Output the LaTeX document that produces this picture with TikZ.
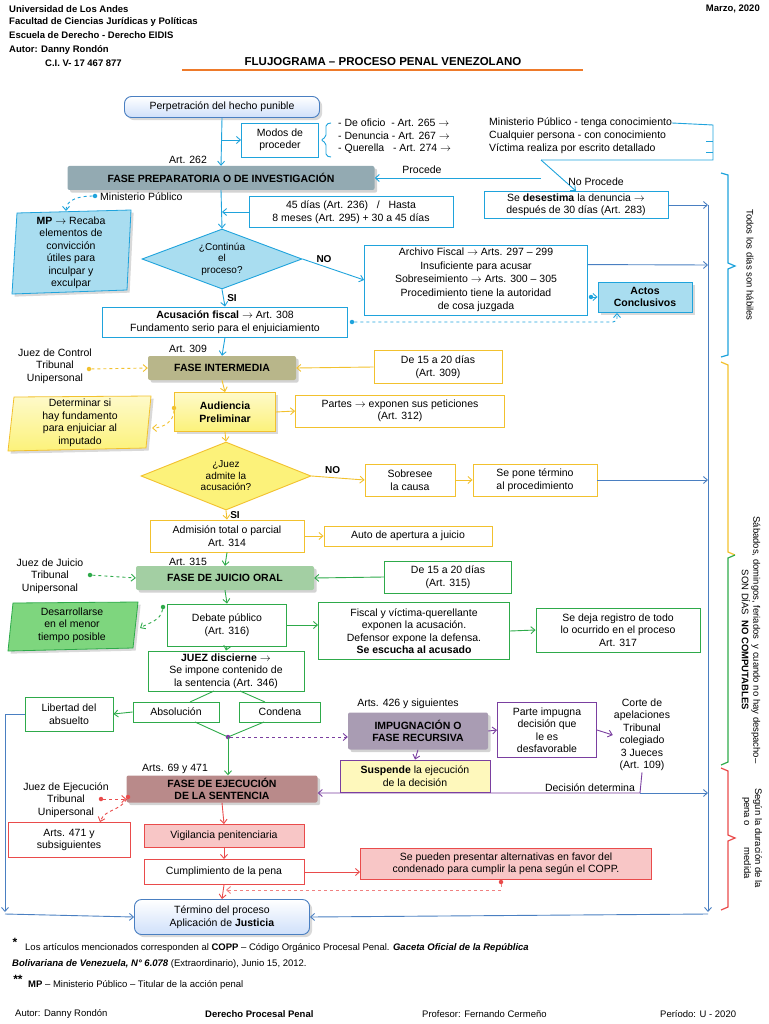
\documentclass[tikz,border=0pt]{standalone}
\usepackage{fontspec}
\setmainfont{Liberation Sans}
\usetikzlibrary{arrows.meta,shapes.geometric,shadows,calc}
\definecolor{lb}{HTML}{4A7FC1}
\definecolor{cy}{HTML}{1FA3DC}
\definecolor{cyf}{HTML}{A9DDF0}
\definecolor{yl}{HTML}{F2C12E}
\definecolor{ylf}{HTML}{FCF27A}
\definecolor{gr}{HTML}{2EAA4A}
\definecolor{grf}{HTML}{7ED67E}
\definecolor{pu}{HTML}{7A3FA0}
\definecolor{puf}{HTML}{A99CB3}
\definecolor{rd}{HTML}{E94B4B}
\definecolor{rdf}{HTML}{F8C6C6}
\definecolor{prepc}{HTML}{93AAB2}
\definecolor{interc}{HTML}{B8B68A}
\definecolor{oralc}{HTML}{A3CFA3}
\definecolor{ejec}{HTML}{B98A8A}
\definecolor{orng}{HTML}{EE7A2A}
\begin{document}
\begin{tikzpicture}[x=1pt,y=-1pt,
  font=\fontsize{10.5}{12.5}\selectfont,
  >={Straight Barb[length=4pt,width=7pt]},
  bx/.style={draw=#1, line width=0.9pt, fill=white, align=center, inner sep=2pt},
  phase/.style={rounded corners=2pt, align=center, inner sep=2pt, font=\bfseries\fontsize{10.5}{12.5}\selectfont, drop shadow={opacity=0.35}},
  term/.style={draw=lb, line width=0.9pt, rounded corners=7pt, top color=white, bottom color=cyf!80!blue!40, align=center, drop shadow={opacity=0.3}},
  lbl/.style={inner sep=1pt, align=center},
  dotc/.style={fill=#1, circle, inner sep=0pt, minimum size=4.5pt},
  cl/.style={draw=#1, line width=0.9pt}
]
\useasboundingbox (0,0) rectangle (768,1024);
% header
\begin{scope}[every node/.style={anchor=west, inner sep=0pt, font=\bfseries\fontsize{9.5}{11}\selectfont}]
\node (h1) at (9,9) {Universidad de Los Andes};
\node (h2) at (9,22) {Facultad de Ciencias Jurídicas y Políticas};
\node (h3) at (9,35) {Escuela de Derecho - Derecho EIDIS};
\node (h4) at (9,50) {Autor: Danny Rondón};
\node (h5) at (45,63) {C.I. V- 17 467 877};
\end{scope}
\node[anchor=east, inner sep=0pt, font=\bfseries\fontsize{9.5}{11}\selectfont] (h6) at (760,9) {Marzo, 2020};
\node[inner sep=0pt, font=\bfseries\fontsize{11.5}{13}\selectfont] (title) at (383,62) {FLUJOGRAMA – PROCESO PENAL VENEZOLANO};
\draw[orng, line width=1.6pt] (182,70) -- (583,70);

% ---- top section
\node[term, minimum width=195, minimum height=21] (perp) at (222,107) {Perpetración del hecho punible};
\node[bx=cy, minimum width=77, minimum height=34] (modos) at (280,140) {Modos de\\proceder};
\node[phase, fill=prepc, minimum width=307, minimum height=24] (prep) at (221,178) {FASE PREPARATORIA O DE INVESTIGACIÓN};
\draw[cl=cy,->] (perp.south) -- (prep.north);
\draw[cl=cy,->] (222,140) -- (modos.west);
\node[lbl] (a262) at (188,160) {Art. 262};
\draw[cy, line width=0.9pt, rounded corners=2pt] (331,123) -- (326,124) -- (326,137) -- (321,140) -- (326,143) -- (326,156) -- (331,157);
\begin{scope}[every node/.style={anchor=west, inner sep=0pt}]
\node (m1) at (338,123) {- De oficio \ - Art. 265 $\rightarrow$};
\node (m2) at (338,136) {- Denuncia - Art. 267 $\rightarrow$};
\node (m3) at (338,149) {- Querella \ \ - Art. 274 $\rightarrow$};
\node (r1) at (489,123) {Ministerio Público - tenga conocimiento};
\node (r2) at (489,136) {Cualquier persona - con conocimiento};
\node (r3) at (489,149) {Víctima realiza por escrito detallado};
\end{scope}
\draw[cl=cy] (r1.east) -- (713,125) -- (713,160) -- (541,160);
\draw[cl=cy] (706,141) -- (713,141);
\draw[cl=cy] (706,152) -- (713,152);
\node[bx=cy, minimum width=184, minimum height=27] (des) at (576,205) {Se \textbf{desestima} la denuncia $\rightarrow$\\después de 30 días (Art. 283)};
\draw[cl=cy,->] (541,160) -- (des.north);
\draw[cl=cy,->] (541,178) -- (prep.east);
\node[lbl] (proc) at (422,170) {Procede};
\node[lbl] (noproc) at (596,182) {No Procede};
% MP
\node[dotc=cy] (mpdot) at (95,196) {};
\node[anchor=west, inner sep=1pt] (mplab) at (99,197) {Ministerio Público};
\draw[cy, fill=cyf, line width=0.8pt, drop shadow={opacity=0.3}] (17,213) -- (131,210) -- (127,290) -- (12,294) -- cycle;
\node[lbl] (mp) at (71,253) {\textbf{MP} $\rightarrow$ Recaba\\elementos de\\convicción\\útiles para\\inculpar y\\exculpar};
\draw[cy, line width=0.9pt, dashed, ->] (mpdot) to[out=180,in=90] (66,211);
\node[bx=cy, minimum width=204, minimum height=31] (dias) at (351,212) {45 días (Art. 236) \ \ / \ \ Hasta\\8 meses (Art. 295) + 30 a 45 días};
\node[diamond, draw=cy, fill=cyf, line width=0.9pt, aspect=2.6, inner sep=0pt, minimum width=160, minimum height=60, align=center, font=\fontsize{10}{11.5}\selectfont] (cont) at (222,259) {¿Continúa\\el\\proceso?};
\draw[cl=cy,->] (prep.south) -- (cont.north);
\draw[cl=cy,->] (dias.west) -- (222,212);
\node[bx=cy, minimum width=223, minimum height=70, font=\fontsize{10.5}{13.5}\selectfont] (arch) at (476,280) {Archivo Fiscal $\rightarrow$ Arts. 297 – 299\\Insuficiente para acusar\\Sobreseimiento $\rightarrow$ Arts. 300 – 305\\Procedimiento tiene la autoridad\\de cosa juzgada};
\draw[cl=cy,->] (cont.east) -- (arch.west) node[pos=0.35, above, font=\bfseries] {NO};
\node[bx=cy, fill=cyf, minimum width=94, minimum height=30, font=\bfseries\fontsize{10.5}{12.5}\selectfont, drop shadow={opacity=0.3}] (actos) at (645,297) {Actos\\Conclusivos};
\node[dotc=cy] (adot) at (591,297) {};
\draw[cy, line width=0.9pt, dashed, ->] (adot) -- (actos.west);
\node[bx=cy, minimum width=245, minimum height=30] (acus) at (225,322) {\textbf{Acusación fiscal} $\rightarrow$ Art. 308\\Fundamento serio para el enjuiciamiento};
\draw[cl=cy,->] (cont.south) -- (acus.north) node[midway, right, font=\bfseries] {SI};
\node[dotc=cy] (acdot) at (352,322) {};
\draw[cy, line width=0.9pt, dashed, ->, rounded corners=4pt] (acdot) -- (617,322) -- (617,313);
% right blue line
\draw[lb, line width=0.9pt, ->] (des.east) -- (708,205);
\draw[lb, line width=0.9pt, ->] ($(arch.north east)+(0,20)$) -- (708,265);
\draw[lb, line width=0.9pt, ->] (708,205) -- (708,912);

% ---- intermedia
\node[lbl] (a309) at (188,349) {Art. 309};
\node[phase, fill=interc, minimum width=148, minimum height=24] (inter) at (222,368) {FASE INTERMEDIA};
\draw[cl=cy,->] (acus.south) -- (inter.north);
\node[lbl] (jc) at (55,366) {Juez de Control\\Tribunal\\Unipersonal};
\node[dotc=yl] (jcdot) at (89,369) {};
\draw[yl, line width=0.9pt, dashed, ->] (jcdot) -- (inter.west);
\node[bx=yl, minimum width=128, minimum height=33] (d309) at (438,367) {De 15 a 20 días\\(Art. 309)};
\draw[cl=yl,->] (d309.west) -- (inter.east);
\node[bx=yl, top color=ylf!40, bottom color=ylf, minimum width=101, minimum height=39, font=\bfseries\fontsize{10.5}{12.5}\selectfont, drop shadow={opacity=0.3}] (aud) at (225,412) {Audiencia\\Preliminar};
\draw[cl=yl,->] (inter.south) -- (aud.north);
\draw[yl, top color=ylf!40, bottom color=ylf, line width=0.8pt, drop shadow={opacity=0.3}] (14,397) -- (151,396) -- (146,448) -- (8,451) -- cycle;
\node[lbl] (det) at (80,423) {Determinar si\\hay fundamento\\para enjuiciar al\\imputado};
\node[dotc=yl] (auddot) at (174,408) {};
\draw[yl, line width=0.9pt, dashed, ->] (auddot) to[out=270,in=0] (152,428);
\node[bx=yl, minimum width=209, minimum height=32] (partes) at (400,411) {Partes $\rightarrow$ exponen sus peticiones\\(Art. 312)};
\draw[cl=yl,->] (aud.east) -- (partes.west);
\node[diamond, draw=yl, fill=ylf, line width=0.9pt, aspect=2.45, inner sep=0pt, minimum width=170, minimum height=68, align=center, font=\fontsize{10}{11.5}\selectfont] (juez) at (226,476) {¿Juez\\admite la\\acusación?};
\draw[cl=yl,->] (aud.south) -- (juez.north);
\node[bx=yl, minimum width=90, minimum height=32] (sobre) at (410,480) {Sobresee\\la causa};
\draw[cl=yl,->] (juez.east) -- (sobre.west) node[pos=0.4, above, font=\bfseries] {NO};
\node[bx=yl, minimum width=124, minimum height=32] (pone) at (535,480) {Se pone término\\al procedimiento};
\draw[cl=yl,->] (sobre.east) -- (pone.west);
\draw[lb, line width=0.9pt, ->] (pone.east) -- (708,480);
\node[bx=yl, minimum width=154, minimum height=32] (adm) at (227,536) {Admisión total o parcial\\Art. 314};
\draw[cl=yl,->] (juez.south) -- (adm.north) node[midway, right, font=\bfseries] {SI};
\node[bx=yl, minimum width=168, minimum height=20] (auto) at (408,536) {Auto de apertura a juicio};
\draw[cl=yl,->] (adm.east) -- (auto.west);

% ---- juicio oral
\node[lbl] (a315) at (188,562) {Art. 315};
\node[phase, fill=oralc, minimum width=178, minimum height=24] (oral) at (225,578) {FASE DE JUICIO ORAL};
\draw[cl=gr,->] (adm.south) -- (oral.north);
\node[lbl] (jj) at (50,576) {Juez de Juicio\\Tribunal\\Unipersonal};
\node[dotc=gr] (jjdot) at (90,575) {};
\draw[gr, line width=0.9pt, dashed, ->] (jjdot) -- (oral.west);
\node[bx=gr, minimum width=127, minimum height=32] (d315) at (448,577) {De 15 a 20 días\\(Art. 315)};
\draw[cl=gr,->] (d315.west) -- (oral.east);
\draw[gr, fill=grf, line width=0.8pt, drop shadow={opacity=0.3}] (13,603) -- (138,602) -- (133,648) -- (8,651) -- cycle;
\node[lbl] (desa) at (72,625) {Desarrollarse\\en el menor\\tiempo posible};
\node[bx=gr, minimum width=119, minimum height=42] (deb) at (227,625) {Debate público\\(Art. 316)};
\draw[cl=gr,->] (oral.south) -- (deb.north);
\node[dotc=gr] (debdot) at (163,607) {};
\draw[gr, line width=0.9pt, dashed, ->] (debdot) to[out=260,in=30] (140,628);
\node[bx=gr, minimum width=191, minimum height=57] (fisc) at (414,631) {Fiscal y víctima-querellante\\exponen la acusación.\\Defensor expone la defensa.\\\textbf{Se escucha al acusado}};
\draw[cl=gr,->] (deb.east) -- (deb.east -| fisc.west);
\node[bx=gr, minimum width=164, minimum height=44] (reg) at (618,630) {Se deja registro de todo\\lo ocurrido en el proceso\\Art. 317};
\draw[cl=gr,->] (fisc.east) -- (reg.west);
\node[bx=gr, minimum width=156, minimum height=40] (disc) at (226,671) {\textbf{JUEZ discierne} $\rightarrow$\\Se impone contenido de\\la sentencia (Art. 346)};
\draw[cl=gr,->] (deb.south) -- (disc.north);
\node[bx=gr, minimum width=86, minimum height=20] (abs) at (176,712) {Absolución};
\node[bx=gr, minimum width=81, minimum height=20] (cond) at (280,712) {Condena};
\coordinate (dbot) at (228,737);
\draw[cl=gr] (214,691) -- (190,702);
\draw[cl=gr] (240,691) -- (265,702);
\draw[cl=gr] (195,722) -- (dbot) -- (264,722);
\node[bx=gr, minimum width=88, minimum height=34] (lib) at (69,714) {Libertad del\\absuelto};
\draw[cl=gr,->] (abs.west) -- (lib.east);
\draw[lb, line width=0.9pt, ->] (lib.west) -- (5,714) -- (5,912);

% ---- impugnacion
\node[lbl] (a426) at (408,704) {Arts. 426 y siguientes};
\node[phase, fill=puf, minimum width=140, minimum height=37] (imp) at (418,731) {IMPUGNACIÓN O\\FASE RECURSIVA};
\node[dotc=pu] (pdot) at (dbot) {};
\draw[pu, line width=0.9pt, dashed, ->] (pdot) -- (imp.west |- pdot);
\node[bx=pu, minimum width=99, minimum height=55] (parte) at (547,730) {Parte impugna\\decisión que\\le es\\desfavorable};
\draw[cl=pu,->] (imp.east) -- (parte.west);
\node[lbl] (corte) at (642,735) {Corte de\\apelaciones\\Tribunal\\colegiado\\3 Jueces\\(Art. 109)};
\draw[cl=pu,->] (parte.east) -- (corte.west);
\node[bx=pu, fill=ylf!50, minimum width=150, minimum height=32] (susp) at (415,776) {\textbf{Suspende} la ejecución\\de la decisión};
\draw[cl=pu,->] (imp.south) -- (susp.north);

% ---- ejecucion
\node[lbl] (a69) at (175,769) {Arts. 69 y 471};
\node[phase, fill=ejec, minimum width=191, minimum height=27] (eje) at (222,789) {FASE DE EJECUCIÓN\\DE LA SENTENCIA};
\draw[cl=gr,->] (dbot) -- (eje.north -| dbot);
\node[lbl] (je) at (66,800) {Juez de Ejecución\\Tribunal\\Unipersonal};
\node[dotc=rd] (jedot) at (101,799) {};
\draw[rd, line width=0.9pt, dashed, ->] (jedot) -- (eje.west |- jedot);
\draw[cl=pu,->] (corte.south) -- (640,793) -- (eje.east |- 0,793);
\node[lbl, anchor=south] (decd) at (590,793) {Decisión determina};
\draw[lb, line width=0.9pt, ->] (640,793) -- (708,793);
\node[bx=rd, minimum width=122, minimum height=35] (a471) at (69,840) {Arts. 471 y\\subsiguientes};
\node[dotc=rd] (ejdot) at (128,797) {};
\draw[rd, line width=0.9pt, dashed, ->] (ejdot) to[out=240,in=70] (a471.north -| 100,0);
\node[bx=rd, fill=rdf, minimum width=160, minimum height=23] (vig) at (224,836) {Vigilancia penitenciaria};
\draw[cl=rd,->] (eje.south) -- (vig.north);
\node[bx=rd, minimum width=160, minimum height=25] (cump) at (224,872) {Cumplimiento de la pena};
\draw[cl=rd,->] (vig.south) -- (cump.north);
\node[bx=rd, fill=rdf, minimum width=291, minimum height=31] (alt) at (506,864) {Se pueden presentar alternativas en favor del\\condenado para cumplir la pena según el COPP.};
\draw[cl=rd,->] (cump.east) -- (alt.west |- cump.east);
\node[term, minimum width=175, minimum height=35] (fin) at (222,917) {Término del proceso\\Aplicación de \textbf{Justicia}};
\draw[cl=rd,->] (cump.south) -- (fin.north);
\node[dotc=rd] (altdot) at (501,882) {};
\draw[rd!70, line width=0.9pt, dashed, ->] (altdot) -- (501,890) -- (226,890);
\draw[lb, line width=0.9pt, ->] (5,914) -- (fin.west);
\draw[lb, line width=0.9pt, ->] (708,914) -- (fin.east);

% ---- braces
\draw[cy, line width=1.2pt] (721,173) -- (728,175) -- (728,263) -- (735,266) -- (728,269) -- (728,355) -- (721,357);
\node[rotate=-90, inner sep=0pt, font=\fontsize{9.5}{11}\selectfont] (t1) at (750,265) {Todos los días son hábiles};
\draw[yl, line width=1.2pt] (721,362) -- (728,365) -- (728,552) -- (735,555);
\draw[gr, line width=1.2pt] (735,555) -- (728,558) -- (728,762) -- (721,765);
\node[rotate=-90, inner sep=0pt, align=center, font=\fontsize{9.5}{11.5}\selectfont] (t2) at (751,640) {Sábados, domingos, feriados \ y cuando no hay despacho–\\SON DÍAS \ \textbf{NO COMPUTABLES}};
\draw[rd, line width=1.2pt] (721,768) -- (728,771) -- (728,835) -- (735,838) -- (728,841) -- (728,907) -- (721,910);
\node[rotate=-90, inner sep=0pt, align=center, font=\fontsize{9.5}{11}\selectfont] (t3) at (752,838) {Según la duración de la\\pena o \qquad medida};

% ---- footer
\node[inner sep=0pt, font=\bfseries\fontsize{12}{12}\selectfont] (st1) at (15,942) {*};
\node[anchor=west, inner sep=0pt, font=\fontsize{9.5}{11}\selectfont] (f1) at (25,948) {Los artículos mencionados corresponden al \textbf{COPP} – Código Orgánico Procesal Penal. \textbf{\itshape Gaceta Oficial de la República}};
\node[anchor=west, inner sep=0pt, font=\fontsize{9.5}{11}\selectfont] (f2) at (12,964) {\textbf{\itshape Bolivariana de Venezuela, N° 6.078} (Extraordinario), Junio 15, 2012.};
\node[inner sep=0pt, font=\bfseries\fontsize{12}{12}\selectfont] (st2) at (18,979) {**};
\node[anchor=west, inner sep=0pt, font=\fontsize{9.5}{11}\selectfont] (f3) at (28,985) {\textbf{MP} – Ministerio Público – Titular de la acción penal};
\begin{scope}[every node/.style={anchor=west, inner sep=0pt, font=\fontsize{9.5}{11}\selectfont}]
\node (g1) at (15,1014) {Autor: Danny Rondón};
\node (g2) at (205,1014) {\textbf{Derecho Procesal Penal}};
\node (g3) at (422,1014) {Profesor: Fernando Cermeño};
\node (g4) at (660,1014) {Período: U - 2020};
\end{scope}
\end{tikzpicture}
\end{document}
